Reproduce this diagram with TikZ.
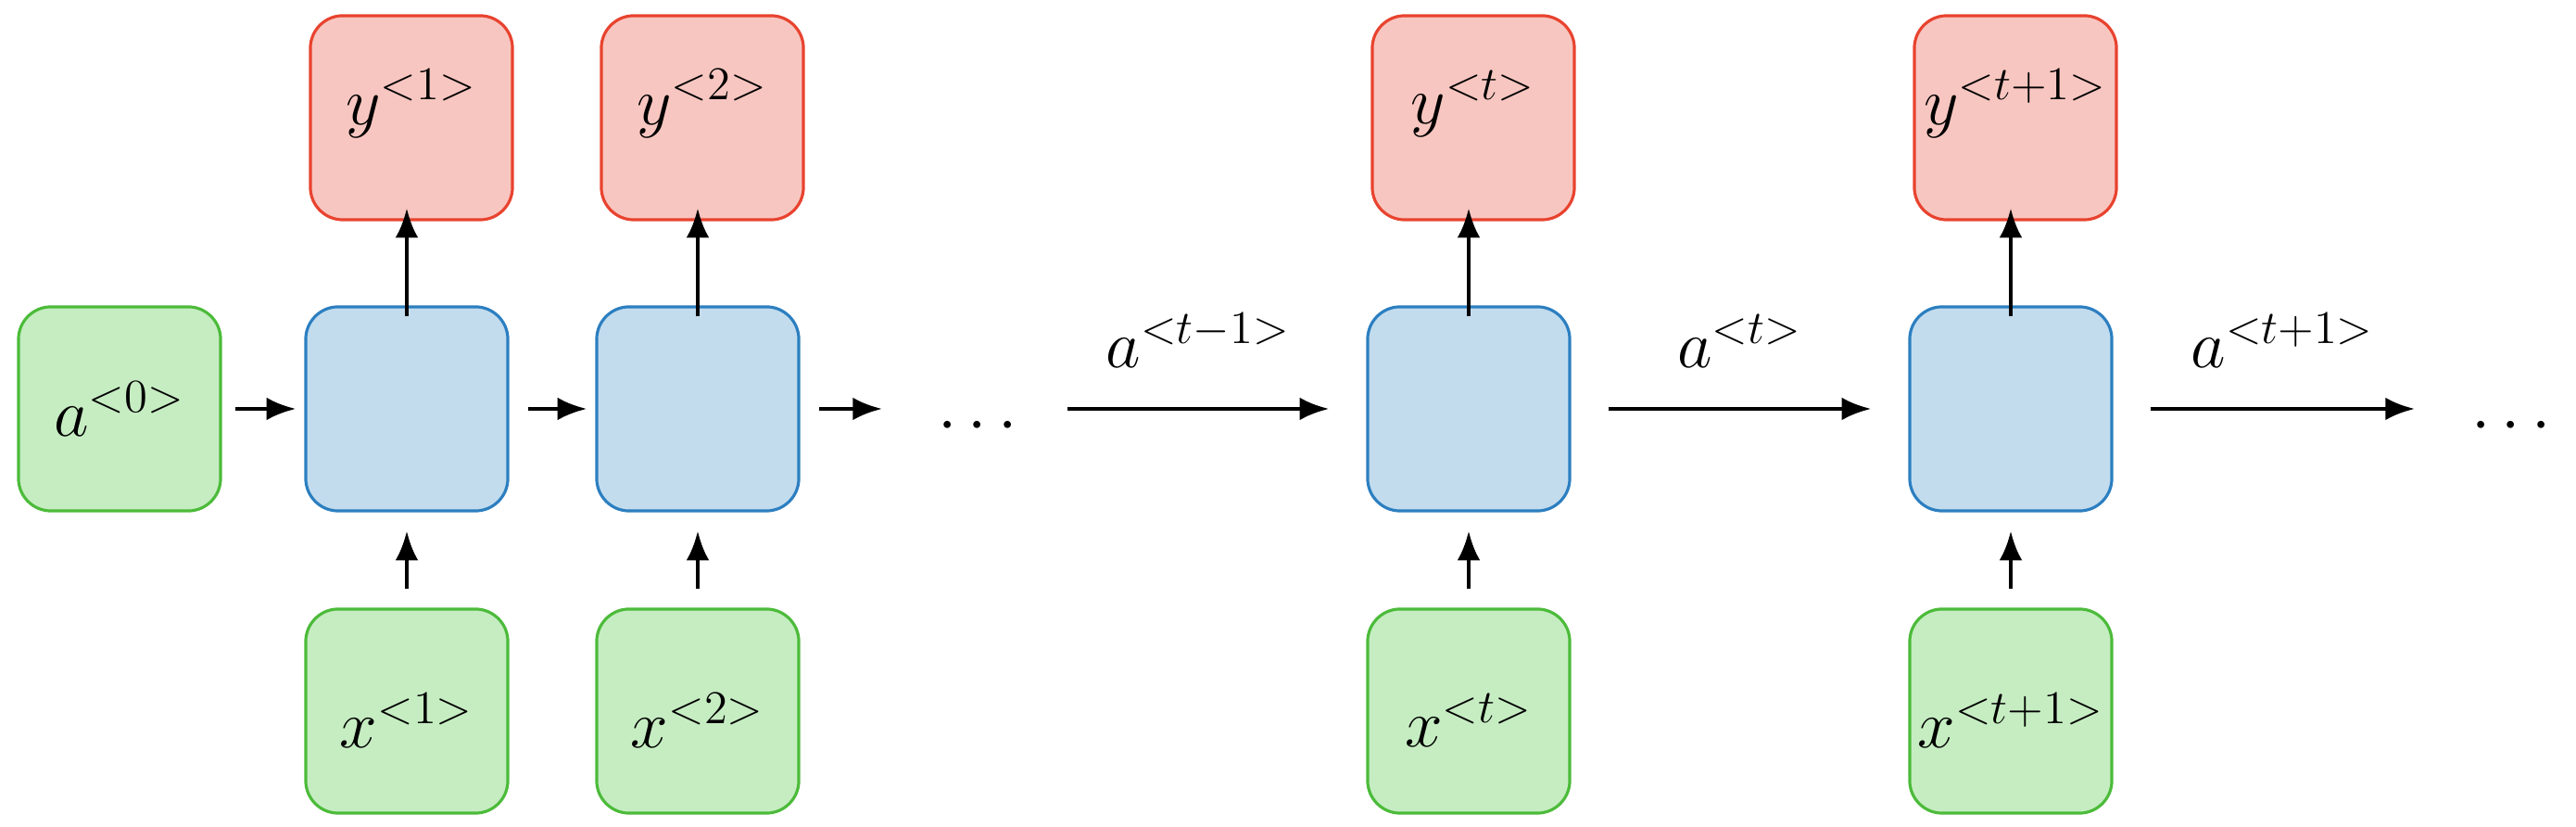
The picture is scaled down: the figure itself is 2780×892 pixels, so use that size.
\documentclass[tikz,border=0pt]{standalone}
\usetikzlibrary{arrows.meta}
\definecolor{rf}{HTML}{F8C6C0}\definecolor{rs}{HTML}{E8432F}
\definecolor{bf}{HTML}{C2DCEE}\definecolor{bs}{HTML}{2C7FC0}
\definecolor{gf}{HTML}{C6EDC2}\definecolor{gs}{HTML}{4CBB3A}
\begin{document}
\begin{tikzpicture}[x=0.01cm,y=-0.01cm,
 box/.style={rectangle,rounded corners=0.35cm,minimum width=2.18cm,minimum height=2.2cm,line width=0.9pt,inner sep=0pt,font=\fontsize{22}{26}\selectfont},
 ybox/.style={box,fill=rf,draw=rs},
 cbox/.style={box,fill=bf,draw=bs},
 gbox/.style={box,fill=gf,draw=gs},
 arr/.style={-{Latex[length=9pt,width=7pt]},line width=1.3pt},
 lab/.style={font=\fontsize{22}{26}\selectfont}]
\useasboundingbox (0,0) rectangle (2780,892);
\node[gbox] (a0) at (129,441) {$a^{<0>}$};
\foreach \n/\x/\s in {1/439/1,2/753/2,t/1585/t,u/2170/t+1}{
 \node[cbox] (c\n) at (\x,441) {};
 \node[ybox] (y\n) at (\x+5,127) {};
 \node[lab] at (y\n.center) [yshift=0.15cm] {$y^{<\s>}$};
 \node[gbox] (x\n) at (\x,767) {};
 \node[lab] at (x\n.center) [yshift=-0.1cm] {$x^{<\s>}$};
 \draw[arr] ([yshift=-0.12cm]c\n.north) -- ([yshift=0.14cm]y\n.south -| c\n.north);
 \draw[arr] ([yshift=0.2cm]x\n.north) -- ([yshift=-0.2cm]c\n.south);
}
\draw[arr] ([xshift=0.14cm]a0.east) -- ([xshift=-0.09cm]c1.west);
\draw[arr] ([xshift=0.2cm]c1.east) -- ([xshift=-0.09cm]c2.west);
\coordinate (e2) at (952,441);
\draw[arr] ([xshift=0.2cm]c2.east) -- (e2);
\node[lab] (d1) at (1055,460) {$\cdots$};
\coordinate (s1) at (1152,441);
\draw[arr] (s1) -- ([xshift=-0.4cm]ct.west) node[midway,above=0.3cm,lab] {$a^{<t-1>}$};
\draw[arr] ([xshift=0.4cm]ct.east) -- ([xshift=-0.4cm]cu.west) node[midway,above=0.3cm,lab] {$a^{<t>}$};
\coordinate (e3) at (2606,441);
\draw[arr] ([xshift=0.4cm]cu.east) -- (e3) node[midway,above=0.3cm,lab] {$a^{<t+1>}$};
\node[lab] (d2) at (2710,460) {$\cdots$};
\end{tikzpicture}
\end{document}
